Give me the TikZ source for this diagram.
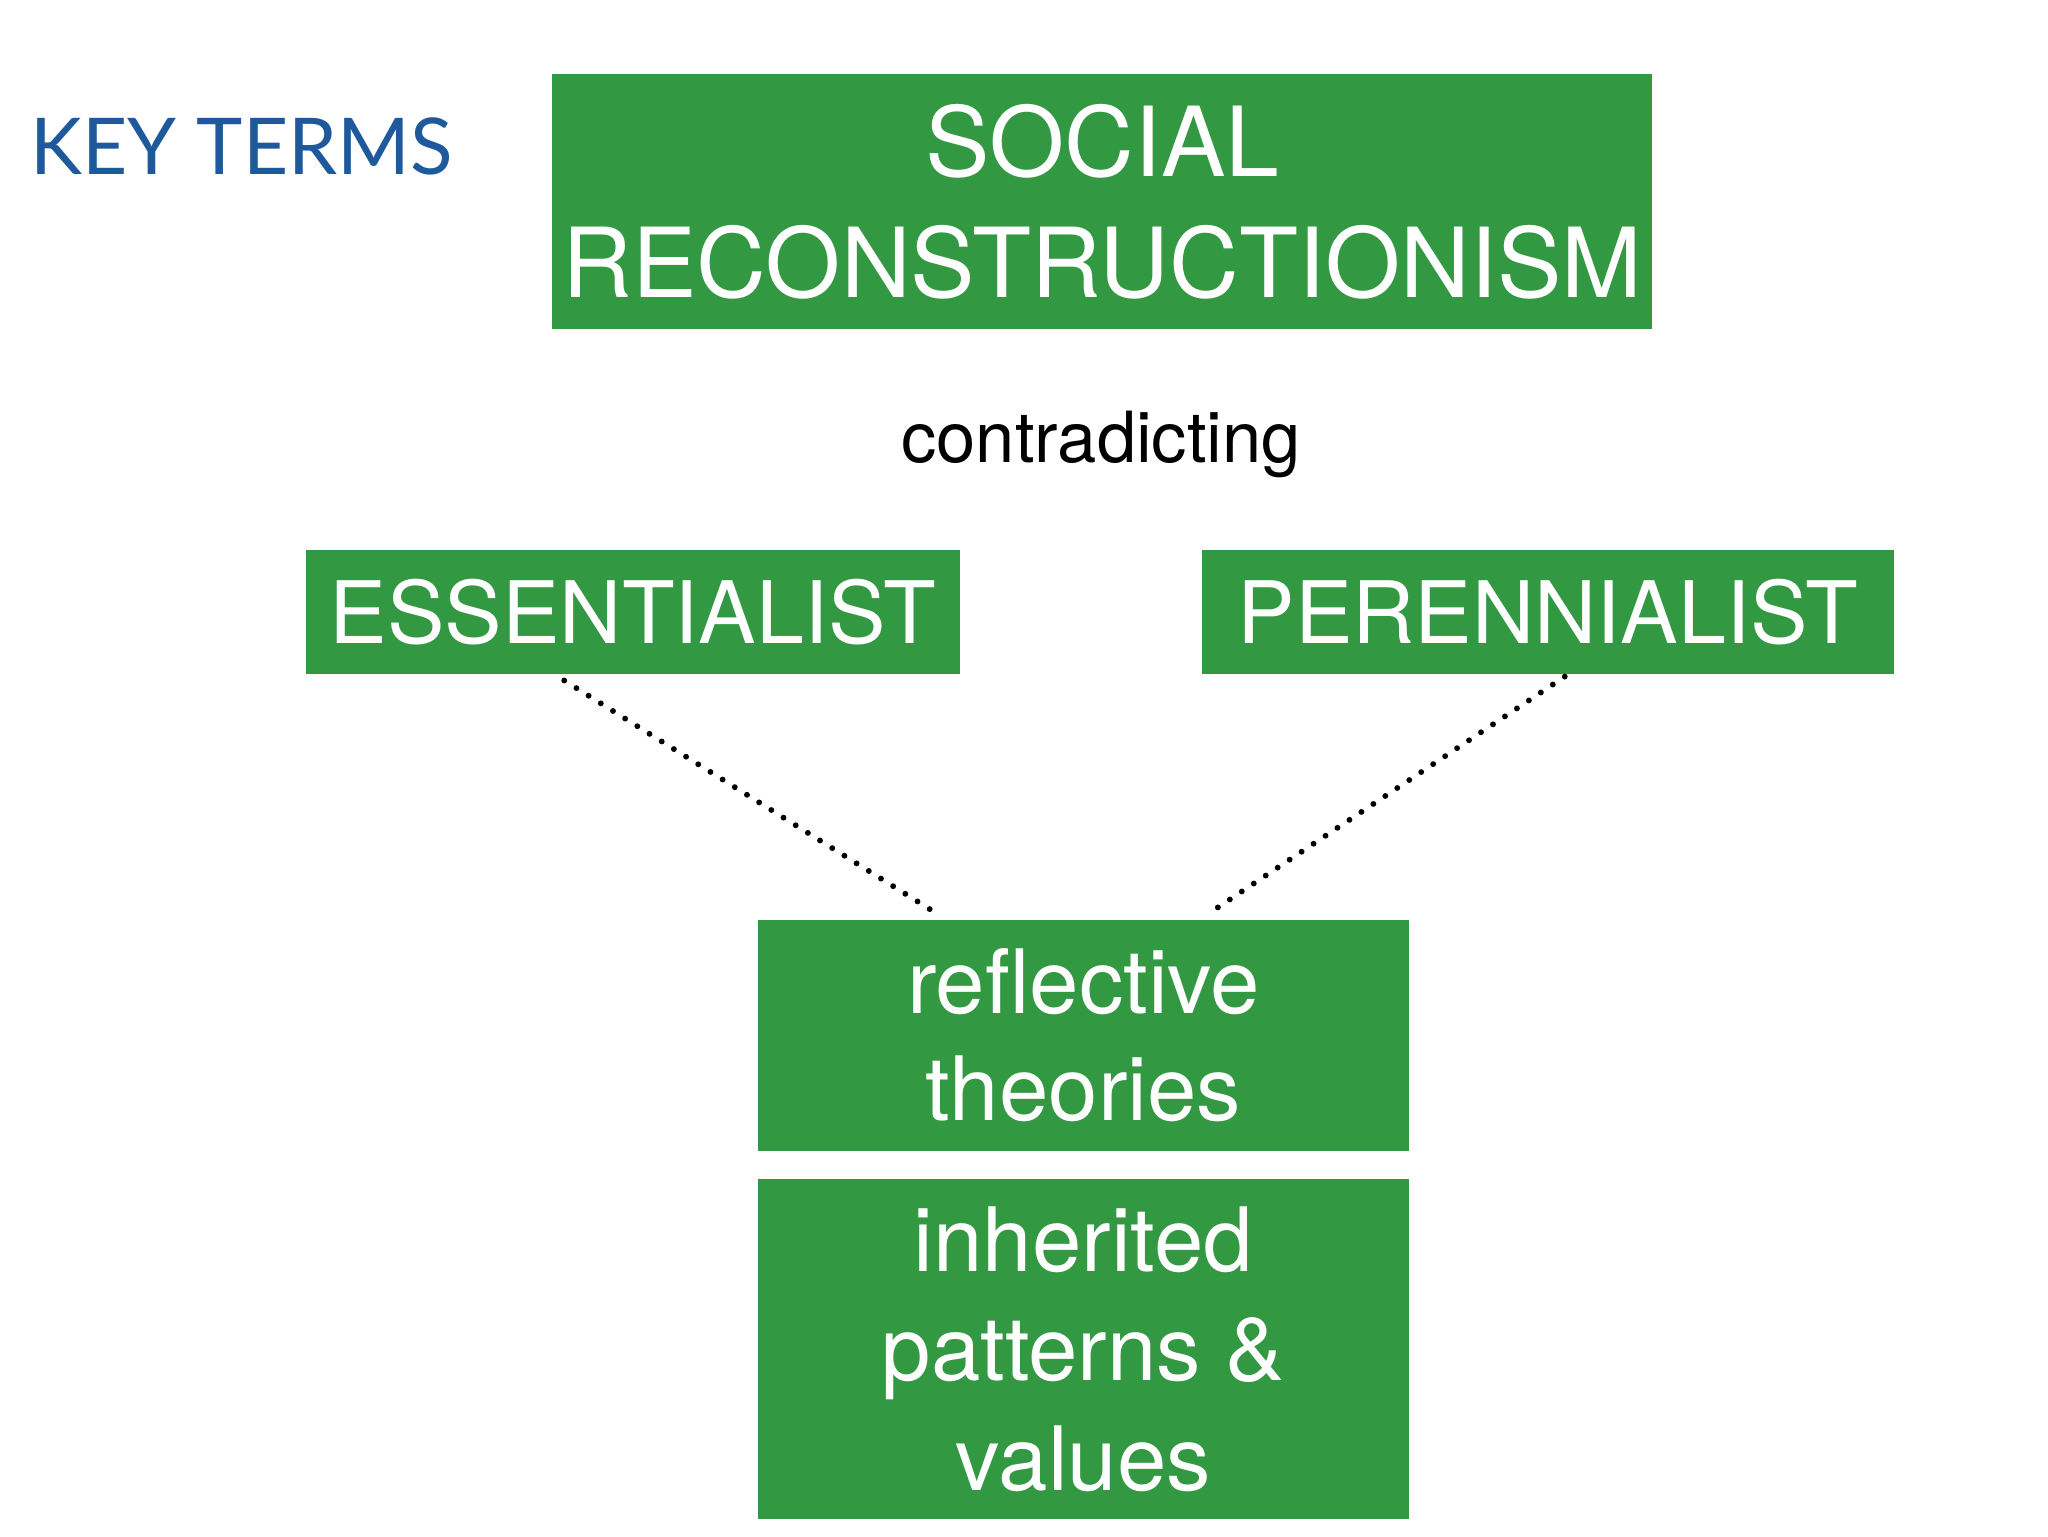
\documentclass[tikz,border=0pt]{standalone}
\usepackage{fontspec}
\setmainfont{TeX Gyre Heros}
\newfontfamily\keyfont{Lato}
\definecolor{boxgreen}{RGB}{51,152,66}
\definecolor{keyblue}{RGB}{30,90,155}
\begin{document}
\begin{tikzpicture}[x=1pt,y=-1pt,
  box/.style={fill=boxgreen,draw=none,text=white,align=center,inner sep=0pt},
  dotline/.style={line width=4.5pt,line cap=round,dash pattern=on 0pt off 11pt}]
\useasboundingbox[fill=white] (0,0) rectangle (1568,1176);
\node[box,minimum width=842pt,minimum height=195pt,font=\fontsize{74}{92}\selectfont] (soc) at (844,154.5) {SOCIAL\\RECONSTRUCTIONISM};
\node[anchor=west,text=keyblue,font=\keyfont\fontsize{60}{70}\selectfont] (key) at (20,112) {KEY TERMS};
\node[font=\fontsize{54}{60}\selectfont] (con) at (843,340) {contradicting};
\node[box,minimum width=501pt,minimum height=95pt,font=\fontsize{66}{80}\selectfont] (ess) at (484.5,468.5) {ESSENTIALIST};
\node[box,minimum width=530pt,minimum height=95pt,font=\fontsize{66}{80}\selectfont] (per) at (1185,468.5) {PERENNIALIST};
\node[box,minimum width=499pt,minimum height=177pt,font=\fontsize{68}{82}\selectfont] (ref) at (829.5,792.5) {reflective\\theories};
\node[box,minimum width=499pt,minimum height=260pt,font=\fontsize{68}{84}\selectfont] (inh) at (829.5,1033) {inherited\\patterns \&\\values};
\coordinate (e1) at (432,521);
\coordinate (e2) at (715,698);
\coordinate (p1) at (1198,518);
\coordinate (p2) at (932,695);
\draw[dotline] (e1) -- (e2);
\draw[dotline] (p1) -- (p2);
\end{tikzpicture}
\end{document}
